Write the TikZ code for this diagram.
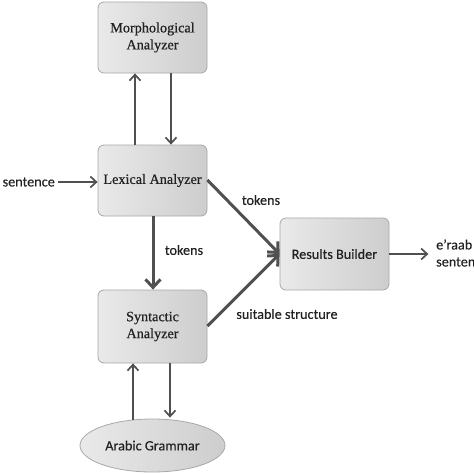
\documentclass[tikz,border=0pt]{standalone}
\usepackage{fontspec}
\setmainfont{Liberation Serif}[FakeBold=0.6]
\newfontfamily\calib{Carlito}[FakeBold=0.3]
\usetikzlibrary{arrows.meta,shapes.geometric}
\definecolor{boxfill}{HTML}{E4E4E4}
\definecolor{boxedge}{HTML}{A8A8A8}
\definecolor{arr}{HTML}{505050}
\definecolor{txt}{HTML}{222222}
\tikzset{
  procbox/.style={draw=boxedge, line width=0.8pt, rounded corners=6pt,
    left color=boxfill!80!white, right color=boxfill!90!black, minimum width=109pt, minimum height=72pt,
    align=center, text=txt, inner sep=0pt},
  serifl/.style={font=\fontsize{14.2}{17}\selectfont},
  sansl/.style={font=\calib\fontsize{14.2}{17}\selectfont, text=txt},
  thin/.style={draw=arr, line width=1.7pt, -{Straight Barb[length=6pt,width=11pt,line width=1.7pt]}},
  thick/.style={draw=arr, line width=3pt, -{Straight Barb[length=8pt,width=15pt,line width=3pt]}},
  lab/.style={font=\calib\fontsize{14.2}{17}\selectfont, text=txt, inner sep=0pt}
}
\begin{document}
\begin{tikzpicture}[x=1pt,y=-1pt]
\useasboundingbox (0,0) rectangle (474,474);
\node[procbox, serifl, minimum height=71pt] (morph) at (152.5,37.5) {Morphological\\Analyzer};
\node[procbox, serifl, minimum height=71pt] (lex) at (152.5,180.5) {Lexical Analyzer};
\node[procbox, serifl, minimum height=73pt] (syn) at (152.5,326.5) {Syntactic\\Analyzer};
\node[procbox, sansl] (res) at (334.5,254) {Results Builder};
\node[ellipse, draw=boxedge, line width=0.8pt, left color=boxfill!80!white, right color=boxfill!90!black,
  minimum width=145pt, minimum height=53pt, inner sep=0pt, sansl] (gram) at (152.5,445.5) {Arabic Grammar};
\node[lab, anchor=east] (sent) at (55,182) {sentence};
\node[lab, anchor=west, align=left] (out) at (436,253) {e’raab of\\sentence};
\node[lab] (tok1) at (261,200) {tokens};
\node[lab] (tok2) at (184,250) {tokens};
\node[lab] (suit) at (287,314) {suitable structure};
\draw[thin] (sent.east) ++(3,0) coordinate (s0) -- (lex.west |- s0);
\draw[thin] (lex.north -| 135,0) -- (morph.south -| 135,0);
\draw[thin] (morph.south -| 171,0) -- (lex.north -| 171,0);
\draw[thin] (gram.north -| 133,0) ++(0,1) -- (syn.south -| 133,0);
\draw[thin] (syn.south -| 170,0) -- ([yshift=1pt]gram.north -| 170,0);
\draw[thick] (lex.south -| 153,0) -- (syn.north -| 153,0);
\draw[thick] (lex.east |- 0,180) -- (res.west);
\draw[thick] (syn.east |- 0,326) -- (res.west);
\draw[thin] (res.east) -- ++(39,0);
\end{tikzpicture}
\end{document}
